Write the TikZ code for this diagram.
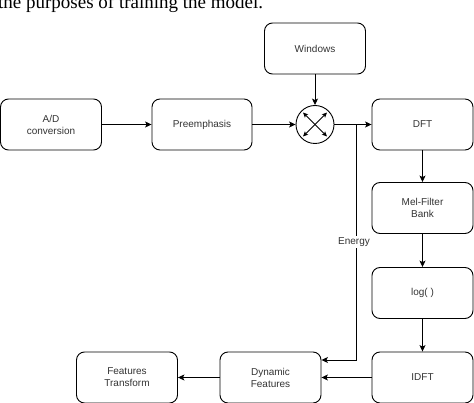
\documentclass[tikz,border=0pt]{standalone}
\usepackage{fontspec}
\setmainfont{Liberation Sans}
\newfontfamily\serifcap{Liberation Serif}
\usetikzlibrary{arrows.meta,calc}
\definecolor{txt}{HTML}{333333}
\tikzset{
  blk/.style={draw=black, line width=0.9pt, rounded corners=8pt, minimum width=101pt, minimum height=51pt, inner sep=0pt, align=center, font=\fontsize{10}{12}\selectfont, text=txt},
  conn/.style={draw=black, line width=0.9pt, -{Stealth[length=6.5pt,width=6pt,inset=1.5pt]}},
  small/.style={draw=black, line width=0.9pt, {Stealth[length=5pt,width=4.5pt,inset=1pt]}-{Stealth[length=5pt,width=4.5pt,inset=1pt]}}
}
\begin{document}
\begin{tikzpicture}[x=1pt,y=-1pt]
\useasboundingbox (0,0) rectangle (474,403);
\node[anchor=base west, inner sep=0pt, font=\serifcap\fontsize{19}{20}\selectfont] (cap) at (-2,9) {the purposes of training the model.};
\node[blk] (win) at (315,48.5) {Windows};
\node[blk] (ad) at (51,124.5) {A/D\\conversion};
\node[blk, minimum width=100pt] (pre) at (202,124.5) {Preemphasis};
\node[draw=black, line width=0.9pt, circle, minimum size=38pt, inner sep=0pt] (mix) at (315,124.5) {};
\node[blk] (dft) at (422.5,124.5) {DFT};
\node[blk] (mel) at (422.5,208) {Mel-Filter\\Bank};
\node[blk] (log) at (422.5,293) {log(\ )};
\node[blk] (idft) at (422.5,377.5) {IDFT};
\node[blk] (dyn) at (270.5,377.5) {Dynamic\\Features};
\node[blk] (ft) at (127,377.5) {Features\\Transform};
\coordinate (br) at (356,124.5);
\coordinate (bc) at (356,360);
\coordinate (m1) at ($(mix)+(-12,-12)$);
\coordinate (m2) at ($(mix)+(12,12)$);
\coordinate (m3) at ($(mix)+(12,-12)$);
\coordinate (m4) at ($(mix)+(-12,12)$);
\draw[small] (m1) -- (m2);
\draw[small] (m3) -- (m4);
\draw[conn] (ad) -- (pre);
\draw[conn] (pre) -- (mix);
\draw[conn] (win) -- (mix);
\draw[conn] (mix) -- (dft);
\draw[conn] (dft) -- (mel);
\draw[conn] (mel) -- (log);
\draw[conn] (log) -- (idft);
\draw[conn] (idft) -- (dyn);
\draw[conn] (dyn) -- (ft);
\draw[conn] (br) -- (bc) -- (bc -| dyn.east);
\node[fill=white, inner sep=1.5pt, font=\fontsize{10}{12}\selectfont, text=txt] (en) at (354,242) {Energy};
\end{tikzpicture}
\end{document}
